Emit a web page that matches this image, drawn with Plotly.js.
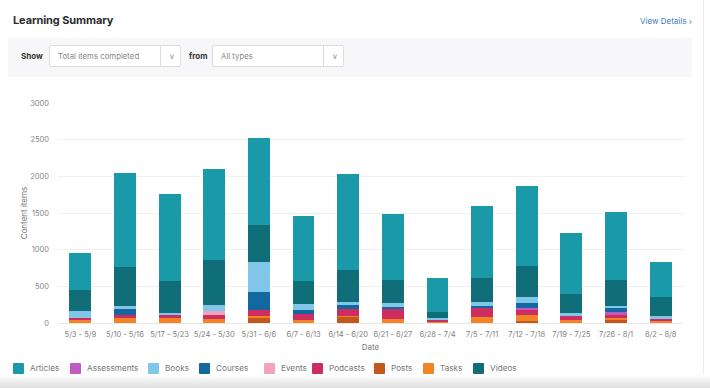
<!DOCTYPE html>
<html><head><meta charset="utf-8">
<script src="https://cdn.plot.ly/plotly-3.0.1.min.js"></script>
<style>
html,body{margin:0;padding:0;width:710px;height:388px;overflow:hidden;background:#fff;font-family:Inter,"Open Sans",Roboto,sans-serif;}
#wrap{position:relative;width:710px;height:388px;}
#chart{position:absolute;left:0;top:0;width:710px;height:388px;}
.title{position:absolute;left:13px;top:13px;font-size:11px;font-weight:700;color:#2b2b2b;letter-spacing:-0.1px;}
.view{position:absolute;left:640px;top:16px;font-size:8px;color:#3b7fc4;}
.bar{position:absolute;left:8px;top:38px;width:684px;height:39px;background:#f7f7f9;}
.lbl{position:absolute;top:51px;font-size:8px;font-weight:700;color:#333;}
.dd{position:absolute;top:45px;height:22px;background:#fff;border:1px solid #dcdcdc;border-radius:2px;box-sizing:border-box;font-size:7.8px;color:#888;line-height:21px;padding-left:8px;}
.dd .sep{position:absolute;top:0;bottom:0;width:1px;background:#dcdcdc;}
.dd .chev{position:absolute;top:0;font-size:8px;color:#999;}
.edge{position:absolute;left:703px;top:0;width:1px;height:388px;background:#ececec;}
.legend{position:absolute;left:0;top:361px;width:710px;height:16px;}
.li{position:absolute;top:0;height:14px;display:flex;align-items:center;font-size:8.2px;color:#777;}
.sw{width:11px;height:11px;margin-right:6px;border-radius:1px;}
.shade{position:absolute;left:0;top:375px;width:710px;height:13px;background:linear-gradient(#ffffff,#dedede);}
</style></head>
<body><div id="wrap">
<div id="chart"></div>
<div class="title">Learning Summary</div>
<div class="view">View Details &#x203A;</div>
<div class="bar"></div>
<div class="lbl" style="left:21px">Show</div>
<div class="dd" style="left:49px;width:132px">Total items completed<div class="sep" style="left:110px"></div><div class="chev" style="left:119px">&#x2228;</div></div>
<div class="lbl" style="left:189px">from</div>
<div class="dd" style="left:212px;width:132px">All types<div class="sep" style="left:110px"></div><div class="chev" style="left:119px">&#x2228;</div></div>
<div class="edge"></div>
<div class="shade"></div>
<div class="legend" id="legend"></div>
</div>
<script>
// Categories (weeks)
const weeks = ["5/3 - 5/9","5/10 - 5/16","5/17 - 5/23","5/24 - 5/30","5/31 - 6/6","6/7 - 6/13","6/14 - 6/20","6/21 - 6/27","6/28 - 7/4","7/5 - 7/11","7/12 - 7/18","7/19 - 7/25","7/26 - 8/1","8/2 - 8/8"];

// Series values (content items per week)
const posts       = [0,   0,   0,   0,   64,  0,   80,  0,   0,   0,   23,  0,   40,  0];
const tasks       = [35,  65,  65,  60,  35,  45,  20,  60,  15,  85,  90,  38,  30,  25];
const podcasts    = [40,  40,  50,  45,  75,  78,  90,  130, 30,  125, 58,  54,  45,  36];
const events      = [0,   0,   0,   62,  0,   0,   0,   0,   0,   0,   0,   0,   0,   0];
const assessments = [0,   0,   0,   0,   0,   0,   0,   0,   0,   0,   30,  0,   31,  0];
const courses     = [0,   87,  0,   0,   245, 58,  60,  30,  0,   25,  65,  0,   60,  0];
const books       = [95,  45,  20,  75,  413, 77,  30,  55,  20,  48,  85,  46,  31,  31];
const videos      = [282, 526, 443, 612, 508, 321, 445, 317, 82,  332, 431, 258, 344, 264];
const articles    = [500, 1279,1175,1247,1179,884, 1301,893, 468, 983, 1092,830, 930, 471];

// Y-axis ticks
const yTicks = [0, 500, 1000, 1500, 2000, 2500, 3000];

// Stack order (bottom to top) and legend order
const stackNames = ["Posts","Tasks","Podcasts","Events","Assessments","Courses","Books","Videos","Articles"];
const stackData  = [posts, tasks, podcasts, events, assessments, courses, books, videos, articles];
const legendNames = ["Articles","Assessments","Books","Courses","Events","Podcasts","Posts","Tasks","Videos"];

const colors = {
  Articles:"#1a9aa9", Assessments:"#c25ac6", Books:"#7fc6e9", Courses:"#15679f",
  Events:"#f4a3bf", Podcasts:"#cd2e62", Posts:"#c2561c", Tasks:"#f38426", Videos:"#0f6e78"
};

const traces = stackNames.map((n,i)=>({
  type:"bar", name:n, x:weeks, y:stackData[i],
  marker:{color:colors[n], line:{width:0}},
  hoverinfo:"x+y+name"
}));

const layout = {
  width:710, height:388, barmode:"stack", bargap:0.51,
  paper_bgcolor:"rgba(0,0,0,0)", plot_bgcolor:"rgba(0,0,0,0)",
  margin:{l:58, r:27, t:103, b:65},
  showlegend:false,
  font:{family:"Inter, 'Open Sans', Roboto, sans-serif", color:"#777", size:8.5},
  xaxis:{type:"category", tickfont:{size:7.5,color:"#808080"}, tickangle:0, showgrid:false, ticks:"",
         ticklabelstandoff:4,
         title:{text:"Date", font:{size:8,color:"#777"}, standoff:6}, automargin:false,
         showline:true, linecolor:"#e8e8e8", linewidth:1},
  yaxis:{range:[0,3000], tickvals:yTicks, ticktext:yTicks.map(String), tickfont:{size:7.5,color:"#888"},
         gridcolor:"#f0f0f0", gridwidth:1, zeroline:false, ticks:"", ticklabelstandoff:8,
         title:{text:"Content items", font:{size:8,color:"#777"}, standoff:1}, automargin:false}
};

Plotly.newPlot("chart", traces, layout, {displayModeBar:false, staticPlot:true});

// Legend
const lg = document.getElementById("legend");
const lx = [13,70,148,199,264,312,374,423,473];
legendNames.forEach((n,i)=>{
  const d=document.createElement("div"); d.className="li"; d.style.left=lx[i]+"px";
  d.innerHTML='<div class="sw" style="background:'+colors[n]+'"></div>'+n;
  lg.appendChild(d);
});
</script>
</body></html>
